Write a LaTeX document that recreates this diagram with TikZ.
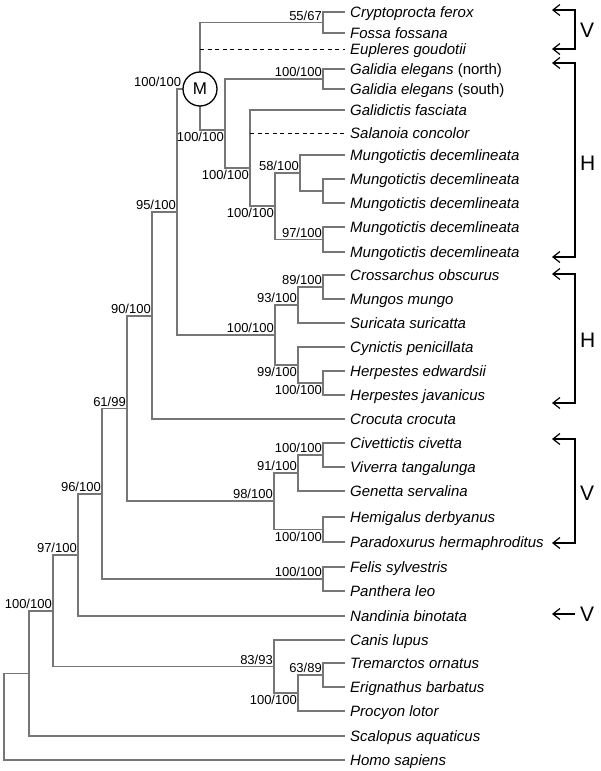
\documentclass[tikz,border=0pt]{standalone}
\usepackage{fontspec}
\setmainfont{Liberation Sans}
\usepackage{xcolor}
\usepackage{tikz}
\usetikzlibrary{arrows.meta, positioning, calc}

\definecolor{branchgray}{RGB}{118,118,118}

\begin{document}
\begin{tikzpicture}[
    x=1pt, y=-1pt,
    branch/.style={draw=branchgray, line width=1.15pt},
    ghost/.style={draw=black, line width=0.9pt, dash pattern=on 4pt off 3.5pt},
    taxon/.style={anchor=west, inner xsep=5pt, inner ysep=0pt, text height=10.8pt, text depth=0pt, font=\fontsize{15}{17}\selectfont\itshape},
    boot/.style={inner xsep=1pt, inner ysep=2pt, text height=9.3pt, text depth=0pt, font=\fontsize{13}{14}\selectfont},
    bsabove/.style={boot, anchor=south east},
    bsbelow/.style={boot, anchor=north east},
    family/.style={{Straight Barb[length=7pt,width=11pt]}-{Straight Barb[length=7pt,width=11pt]}, line width=1.2pt},
    single/.style={-{Straight Barb[length=7pt,width=11pt]}, line width=1.2pt},
    famlabel/.style={anchor=west, inner sep=0pt, font=\fontsize{21}{21}\selectfont}
]
    \useasboundingbox (0,0) rectangle (600,771);

    % Taxa
    \node[taxon] (cfer) at (345,12) {Cryptoprocta ferox};
    \node[taxon] (ffos) at (345,33) {Fossa fossana};
    \node[taxon] (egou) at (345,49) {Eupleres goudotii};
    \node[taxon] (gelN) at (345,69) {Galidia elegans {\upshape(north)}};
    \node[taxon] (gelS) at (345,89) {Galidia elegans {\upshape(south)}};
    \node[taxon] (gfas) at (345,110) {Galidictis fasciata};
    \node[taxon] (scon) at (345,133) {Salanoia concolor};
    \node[taxon] (mdecA) at (345,155) {Mungotictis decemlineata};
    \node[taxon] (mdecB) at (345,179) {Mungotictis decemlineata};
    \node[taxon] (mdecC) at (345,203) {Mungotictis decemlineata};
    \node[taxon] (mdecD) at (345,227) {Mungotictis decemlineata};
    \node[taxon] (mdecE) at (345,252) {Mungotictis decemlineata};
    \node[taxon] (cobs) at (345,275) {Crossarchus obscurus};
    \node[taxon] (mmun) at (345,299) {Mungos mungo};
    \node[taxon] (ssur) at (345,323) {Suricata suricatta};
    \node[taxon] (cpen) at (345,347) {Cynictis penicillata};
    \node[taxon] (hedw) at (345,371) {Herpestes edwardsii};
    \node[taxon] (hjav) at (345,395) {Herpestes javanicus};
    \node[taxon] (ccro) at (345,419) {Crocuta crocuta};
    \node[taxon] (cciv) at (345,443) {Civettictis civetta};
    \node[taxon] (vtan) at (345,467) {Viverra tangalunga};
    \node[taxon] (gser) at (345,491) {Genetta servalina};
    \node[taxon] (hder) at (345,517) {Hemigalus derbyanus};
    \node[taxon] (pher) at (345,542) {Paradoxurus hermaphroditus};
    \node[taxon] (fsyl) at (345,567) {Felis sylvestris};
    \node[taxon] (pleo) at (345,591) {Panthera leo};
    \node[taxon] (nbin) at (345,616) {Nandinia binotata};
    \node[taxon] (clup) at (345,640) {Canis lupus};
    \node[taxon] (torn) at (345,663) {Tremarctos ornatus};
    \node[taxon] (ebar) at (345,687) {Erignathus barbatus};
    \node[taxon] (plot) at (345,711) {Procyon lotor};
    \node[taxon] (saqu) at (345,736) {Scalopus aquaticus};
    \node[taxon] (hsap) at (345,760) {Homo sapiens};

    % Internal nodes
    \coordinate (root) at (4,716.75);
    \coordinate (nMam) at (29,673.5);
    \coordinate (n100c) at (53,611);
    \coordinate (n97) at (78,555);
    \coordinate (n96) at (102,494);
    \coordinate (n61) at (127,408.5);
    \coordinate (n90) at (152,316);
    \coordinate (nHE) at (177,212);
    \coordinate (nM) at (200,89);
    \coordinate (nCF) at (323,22.5);
    \coordinate (nA) at (225,130);
    \coordinate (nGal) at (323,79);
    \coordinate (nB) at (250,168);
    \coordinate (nMun) at (275,206);
    \coordinate (n58) at (300,173);
    \coordinate (nM23) at (323,191);
    \coordinate (nM45) at (323,239.5);
    \coordinate (nHerp) at (275,335);
    \coordinate (n93) at (298,305);
    \coordinate (n89) at (323,287);
    \coordinate (n99) at (298,365);
    \coordinate (nHer) at (323,383);
    \coordinate (nViv) at (274,501);
    \coordinate (n91) at (298,473);
    \coordinate (nCiv) at (323,455);
    \coordinate (nHem) at (323,529.5);
    \coordinate (nFel) at (323,579);
    \coordinate (nCan) at (274,666.5);
    \coordinate (nArc) at (298,693);
    \coordinate (n63) at (323,675);

    % Branches
    \draw[branch] (root) |- (nMam) (root) |- (hsap.west);
    \draw[branch] (nMam) |- (n100c) (nMam) |- (saqu.west);
    \draw[branch] (n100c) |- (n97) (n100c) |- (nCan);
    \draw[branch] (n97) |- (n96) (n97) |- (nbin.west);
    \draw[branch] (n96) |- (n61) (n96) |- (nFel);
    \draw[branch] (n61) |- (n90) (n61) |- (nViv);
    \draw[branch] (n90) |- (nHE) (n90) |- (ccro.west);
    \draw[branch] (nHE) |- (nM) (nHE) |- (nHerp);
    \draw[branch] (nM) |- (nCF) (nM) |- (nA);
    \draw[branch] (nCF) |- (cfer.west) (nCF) |- (ffos.west);
    \draw[branch] (nA) |- (nGal) (nA) |- (nB);
    \draw[branch] (nGal) |- (gelN.west) (nGal) |- (gelS.west);
    \draw[branch] (nB) |- (gfas.west) (nB) |- (nMun);
    \draw[branch] (nMun) |- (n58) (nMun) |- (nM45);
    \draw[branch] (n58) |- (mdecA.west) (n58) |- (nM23);
    \draw[branch] (nM23) |- (mdecB.west) (nM23) |- (mdecC.west);
    \draw[branch] (nM45) |- (mdecD.west) (nM45) |- (mdecE.west);
    \draw[branch] (nHerp) |- (n93) (nHerp) |- (n99);
    \draw[branch] (n93) |- (n89) (n93) |- (ssur.west);
    \draw[branch] (n89) |- (cobs.west) (n89) |- (mmun.west);
    \draw[branch] (n99) |- (cpen.west) (n99) |- (nHer);
    \draw[branch] (nHer) |- (hedw.west) (nHer) |- (hjav.west);
    \draw[branch] (nViv) |- (n91) (nViv) |- (nHem);
    \draw[branch] (n91) |- (nCiv) (n91) |- (gser.west);
    \draw[branch] (nCiv) |- (cciv.west) (nCiv) |- (vtan.west);
    \draw[branch] (nHem) |- (hder.west) (nHem) |- (pher.west);
    \draw[branch] (nFel) |- (fsyl.west) (nFel) |- (pleo.west);
    \draw[branch] (nCan) |- (clup.west) (nCan) |- (nArc);
    \draw[branch] (nArc) |- (n63) (nArc) |- (plot.west);
    \draw[branch] (n63) |- (torn.west) (n63) |- (ebar.west);

    % Taxa placed without data
    \draw[ghost] (nM |- egou.west) -- (egou.west);
    \draw[ghost] (nB |- scon.west) -- (scon.west);

    % Malagasy clade
    \node[draw, circle, line width=1.3pt, fill=white, minimum size=34pt, inner sep=0pt, font=\fontsize{17}{17}\selectfont] (mcirc) at (nM) {M};

    % Support values
    \node[bsabove] (bsM) at (mcirc.west) {100/100};
    \node[bsabove] (bsCF) at (nCF) {55/67};
    \node[bsabove] (bsGal) at (nGal) {100/100};
    \node[bsbelow] (bsA) at (nA) {100/100};
    \node[bsbelow] (bsB) at (nB) {100/100};
    \node[bsabove] (bs58) at (n58) {58/100};
    \node[bsbelow] (bsMun) at (nMun) {100/100};
    \node[bsabove] (bsM45) at (nM45) {97/100};
    \node[bsabove] (bsHE) at (nHE) {95/100};
    \node[bsabove] (bs89) at (n89) {89/100};
    \node[bsabove] (bs93) at (n93) {93/100};
    \node[bsabove] (bsHerp) at (nHerp) {100/100};
    \node[bsbelow] (bs99) at (n99) {99/100};
    \node[bsbelow] (bsHer) at (nHer) {100/100};
    \node[bsabove] (bs90) at (n90) {90/100};
    \node[bsabove] (bs61) at (n61) {61/99};
    \node[bsabove] (bsCiv) at (nCiv) {100/100};
    \node[bsabove] (bs91) at (n91) {91/100};
    \node[bsabove] (bsViv) at (nViv) {98/100};
    \node[bsbelow] (bsHem) at (nHem) {100/100};
    \node[bsabove] (bs96) at (n96) {96/100};
    \node[bsabove] (bsFel) at (nFel) {100/100};
    \node[bsabove] (bs97) at (n97) {97/100};
    \node[bsabove] (bs100c) at (n100c) {100/100};
    \node[bsabove] (bsCan) at (nCan) {83/93};
    \node[bsabove] (bs63) at (n63) {63/89};
    \node[bsbelow] (bsArc) at (nArc) {100/100};

    % Family brackets
    \coordinate (v1t) at (552,10);
    \coordinate (v1b) at (552,49);
    \draw[family] (v1t) -- ++(23,0) |- (v1b);
    \node[famlabel] (famV1) at (580,30) {V};

    \coordinate (h1t) at (552,63);
    \coordinate (h1b) at (552,257);
    \draw[family] (h1t) -- ++(23,0) |- (h1b);
    \node[famlabel] (famH1) at (580,163) {H};

    \coordinate (h2t) at (552,274);
    \coordinate (h2b) at (552,403);
    \draw[family] (h2t) -- ++(23,0) |- (h2b);
    \node[famlabel] (famH2) at (580,340) {H};

    \coordinate (v2t) at (552,439);
    \coordinate (v2b) at (552,543);
    \draw[family] (v2t) -- ++(23,0) |- (v2b);
    \node[famlabel] (famV2) at (580,493) {V};

    \coordinate (v3t) at (552,614);
    \draw[single] ($(v3t)+(23,0)$) -- (v3t);
    \node[famlabel] (famV3) at (580,614) {V};
\end{tikzpicture}
\end{document}
